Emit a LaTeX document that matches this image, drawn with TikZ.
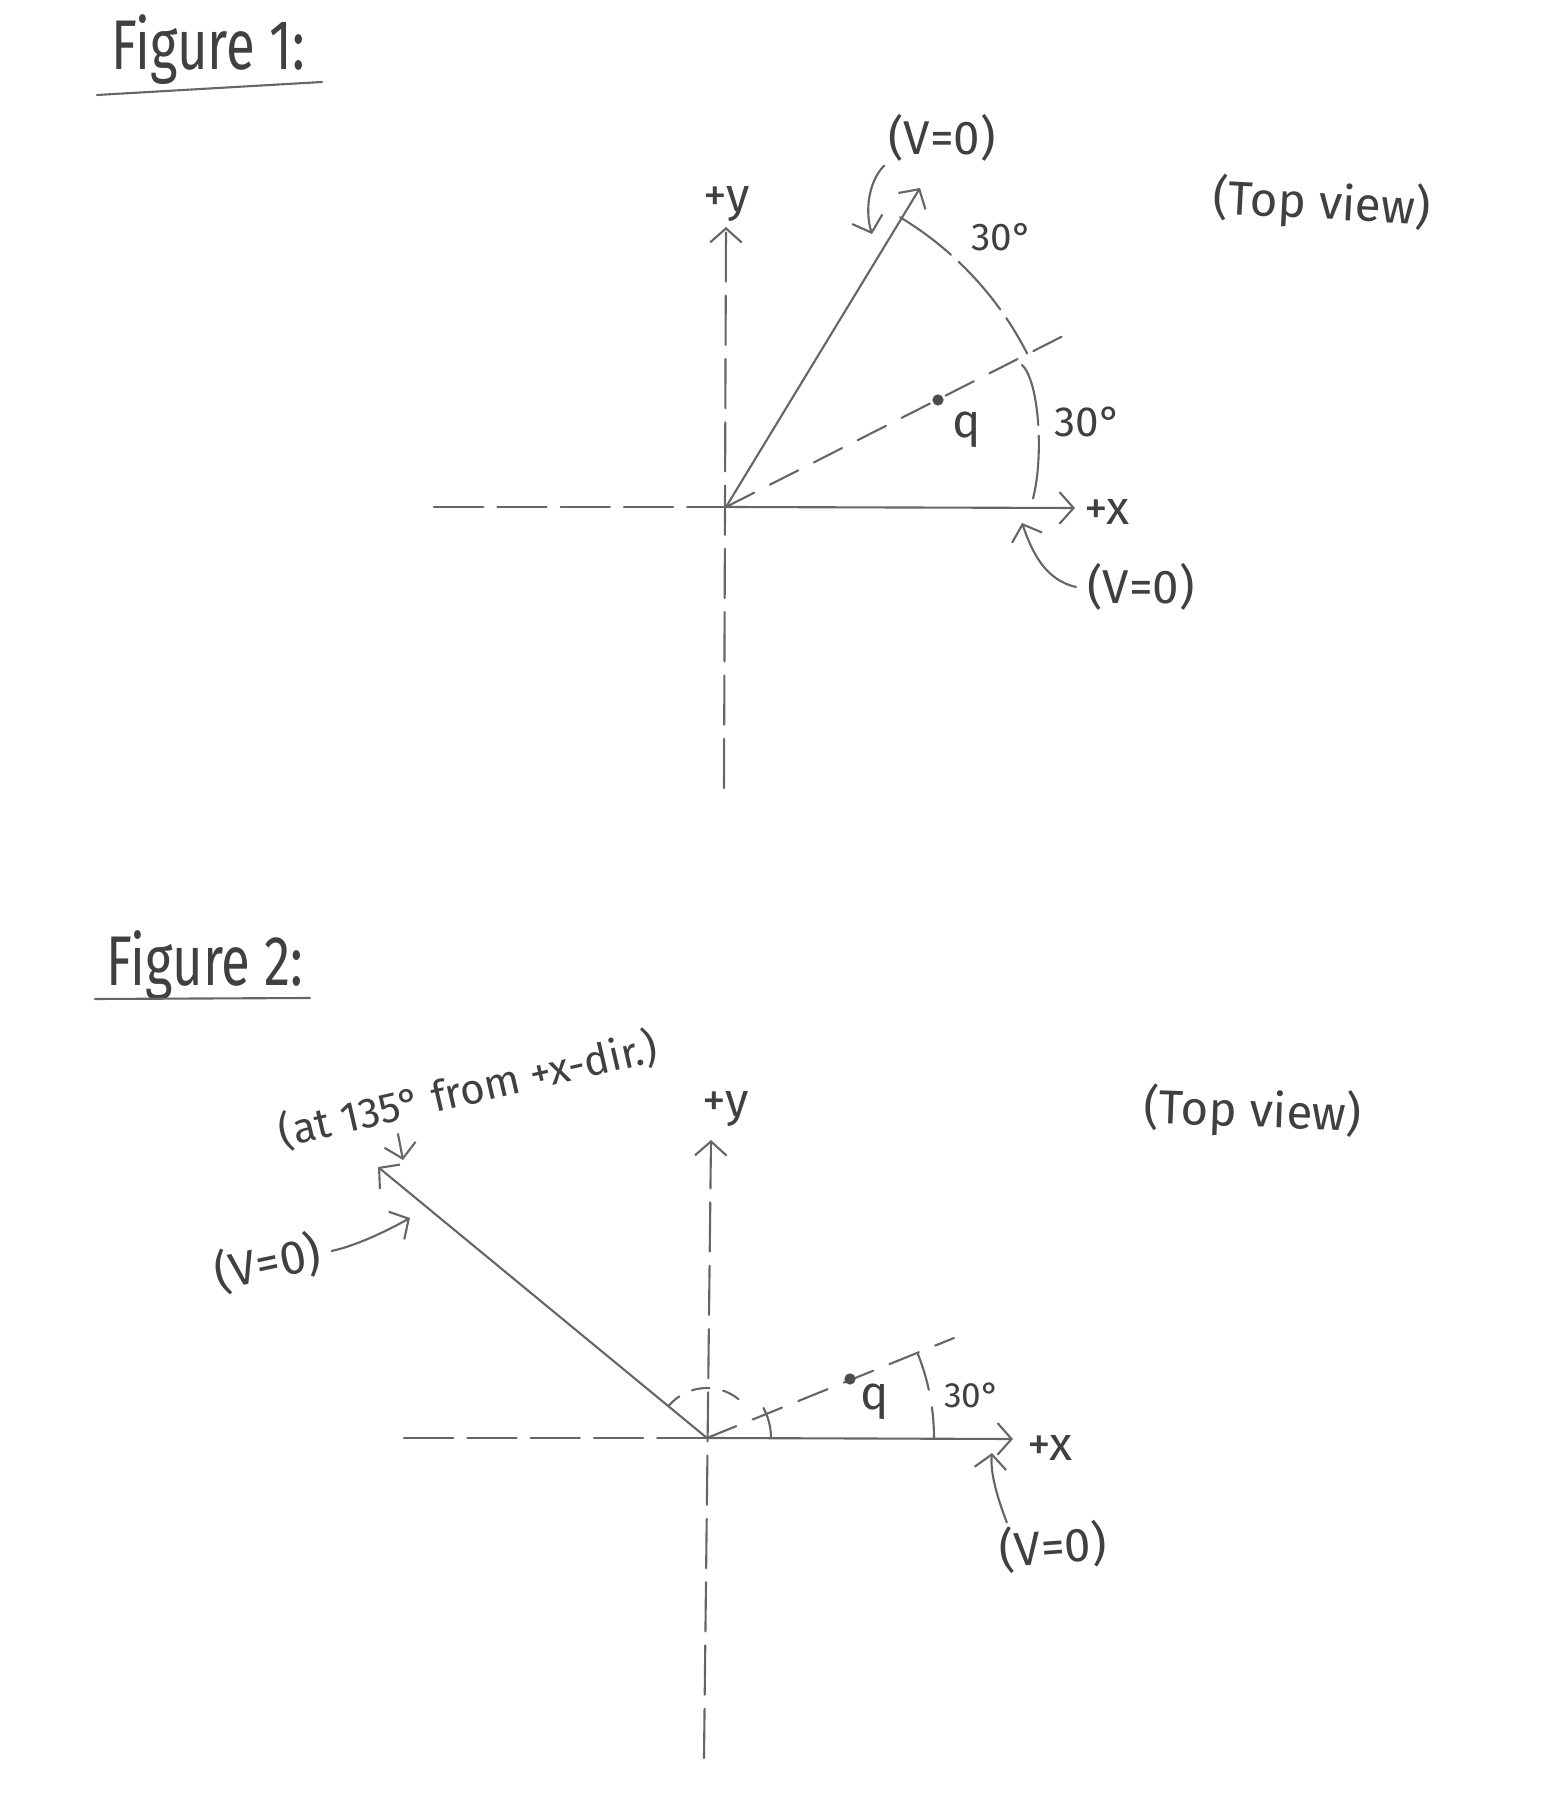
\documentclass[tikz,border=0pt]{standalone}
\usepackage{fontspec}
\setmainfont{Fira Sans}
\newfontfamily\titlehand[FakeStretch=0.75]{Fira Sans}
\usetikzlibrary{arrows.meta}

\begin{document}
\begin{tikzpicture}[x=0.01cm,y=0.01cm,
  pencil/.style={draw=black!60,line width=0.6pt,line cap=round},
  axis/.style={pencil,dash pattern=on 14pt off 4pt},
  guide/.style={pencil,dash pattern=on 9pt off 5pt},
  arcline/.style={pencil,dash pattern=on 18pt off 3pt},
  lbl/.style={text=black!75,inner sep=1pt,font=\fontsize{13.5}{15}\selectfont},
  small/.style={lbl,font=\fontsize{10}{12}\selectfont},
  title/.style={lbl,font=\titlehand\fontsize{20}{22}\selectfont},
  charge/.style={circle,fill=black!70,inner sep=0pt,minimum size=3.2pt},
  >={Straight Barb[length=4pt,width=9pt]}]
\useasboundingbox (0,0) rectangle (1558,1802);

% Figure 1
\node[title] (fig1) at (208,1752) {Figure 1:};
\draw[pencil] (97,1707) -- (322,1720);

\coordinate (O1) at (726,1295);
\coordinate (yTop1) at (726,1575);
\coordinate (yBot1) at (724,1014);
\coordinate (xLeft1) at (434,1295);
\coordinate (xTip1) at (1075,1294);
\coordinate (tip1) at (920,1614);
\coordinate (end1) at (1065,1467);
\draw[axis,->] (yBot1) -- (yTop1);
\node[lbl] (ylab1) at (727,1598) {+y};
\draw[axis] (xLeft1) -- (O1);
\draw[pencil,->] (O1) -- (xTip1);
\node[lbl] (xlab1) at (1107,1290) {+x};
\draw[pencil,->] (O1) -- (tip1);
\draw[guide] (O1) -- (end1);
\node[charge] (q1) at (938,1402) {};
\node[lbl] (qlab1) at (967,1372) {q};
\draw[arcline] (O1) ++(59:338) arc[start angle=59,end angle=27,radius=338];
\draw[arcline] (1022,1437) .. controls (1040,1420) and (1044,1340) .. (1032,1300);
\node[small,font=\fontsize{11}{13}\selectfont] (ang1a) at (1002,1565) {30°};
\node[small,font=\fontsize{12}{14}\selectfont] (ang1b) at (1088,1380) {30°};

\node[lbl] (v1top) at (942,1664) {(V=0)};
\coordinate (v1topEnd) at (872,1568);
\draw[pencil,->] (v1top.south west) .. controls (868,1620) and (865,1590) .. (v1topEnd);
\node[lbl] (v1bot) at (1141,1215) {(V=0)};
\coordinate (v1botEnd) at (1022,1279);
\draw[pencil,->] ([xshift=-2pt]v1bot.west) .. controls (1045,1222) and (1032,1250) .. (v1botEnd);
\node[lbl,rotate=-3] (top1) at (1322,1598) {(Top view)};

% Figure 2
\node[title] (fig2) at (205,836) {Figure 2:};
\draw[pencil] (95,803) -- (310,804);

\coordinate (O2) at (707,364);
\coordinate (yTop2) at (711,662);
\coordinate (yBot2) at (704,44);
\coordinate (xLeft2) at (404,364);
\coordinate (xTip2) at (1013,363);
\coordinate (tip2) at (378,635);
\coordinate (end2) at (954,464);
\draw[axis,->] (yBot2) -- (yTop2);
\node[lbl] (ylab2) at (726,693) {+y};
\draw[axis] (xLeft2) -- (O2);
\draw[pencil,->] (O2) -- (xTip2);
\node[lbl] (xlab2) at (1050,354) {+x};
\draw[pencil,->] (O2) -- (tip2);
\draw[guide] (O2) -- (end2);
\node[charge] (q2) at (850,423) {};
\node[lbl] (qlab2) at (875,400) {q};
\draw[pencil,dash pattern=on 11pt off 5pt] (O2) ++(22:227) arc[start angle=22,end angle=0,radius=227];
\draw[pencil] (O2) ++(1:64) arc[start angle=1,end angle=28,radius=64];
\draw[pencil,dash pattern=on 5pt off 4pt] (O2) ++(51:50) arc[start angle=51,end angle=140,radius=50];
\node[small] (ang2) at (972,407) {30°};

\node[lbl,rotate=13,font=\fontsize{12}{14}\selectfont] (dir2) at (468,712) {(at 135° from +x-dir.)};
\coordinate (dir2Start) at (398,668);
\coordinate (dir2End) at (403,642);
\draw[pencil,->] (dir2Start) -- (dir2End);
\node[lbl,rotate=12] (v2left) at (268,539) {(V=0)};
\coordinate (v2leftEnd) at (410,584);
\draw[pencil,->] ([xshift=2pt]v2left.east) .. controls (355,556) and (385,570) .. (v2leftEnd);
\node[lbl,rotate=4] (v2bot) at (1053,255) {(V=0)};
\coordinate (v2botEnd) at (992,349);
\draw[pencil,->] (v2bot.148) .. controls (997,305) and (990,330) .. (v2botEnd);
\node[lbl,rotate=-2] (top2) at (1253,690) {(Top view)};
\end{tikzpicture}
\end{document}
